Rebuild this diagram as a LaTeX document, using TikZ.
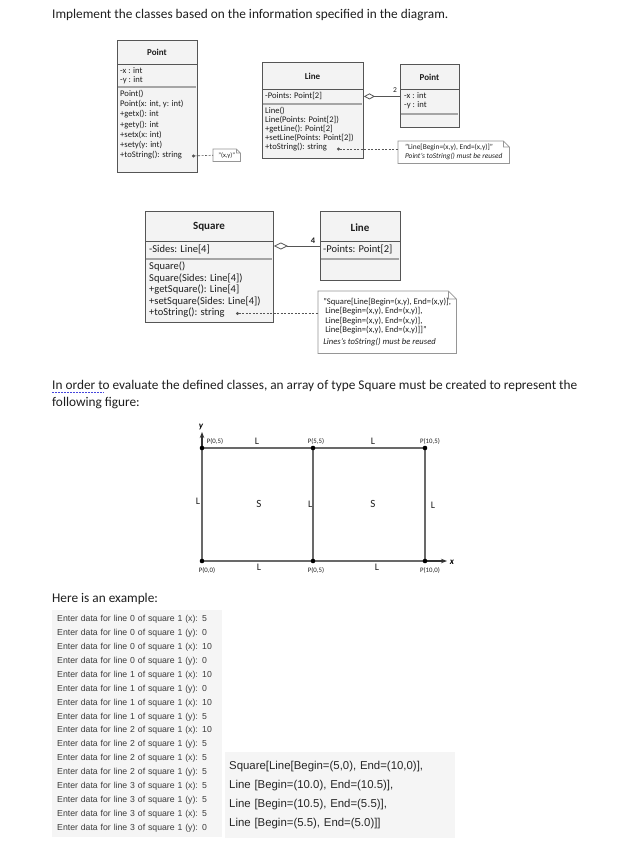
\documentclass[tikz,border=0pt]{standalone}
\usepackage{fontspec}
\setmainfont{Carlito}
\newfontfamily\exfont{Liberation Sans}
\usepackage{tikz}
\usetikzlibrary{arrows.meta,calc}
\definecolor{CDline}{RGB}{85,85,85}
\definecolor{CDfill}{RGB}{243,243,243}
\definecolor{CDsep}{RGB}{165,165,165}
\definecolor{CDtext}{RGB}{30,30,30}
\definecolor{CDnote}{RGB}{150,150,150}
\definecolor{FGline}{RGB}{105,105,105}
\definecolor{EXbg}{RGB}{245,245,245}
\definecolor{EXtext}{RGB}{60,60,60}
\definecolor{TXblue}{RGB}{70,70,220}
\tikzset{
  cls/.style={draw=CDline,fill=CDfill,line width=0.9pt,anchor=north west,inner sep=0pt},
  ctitle/.style={font=\bfseries\fontsize{9}{10}\selectfont,text=CDtext,inner sep=0pt},
  ctext/.style={font=\fontsize{8.6}{9}\selectfont,text=CDtext,align=left,anchor=north west,inner sep=0pt},
  chead/.style={draw=CDline,line width=0.9pt},
  csep/.style={draw=CDsep,line width=1.8pt},
  agg/.style={{Diamond[open,length=11pt,width=6pt]}-,draw=CDline,line width=0.8pt},
  mult/.style={font=\fontsize{7.5}{8}\selectfont,text=CDtext,inner sep=0pt},
  note/.style={anchor=north west,fill=white,font=\fontsize{7.4}{8.6}\selectfont,text=CDtext,align=left,inner sep=2pt},
  notebd/.style={draw=CDnote,line width=0.7pt},
  nlink/.style={{Circle[length=3pt]}-,draw=CDline,line width=0.6pt,dash pattern=on 2pt off 1.5pt},
  body/.style={font=\fontsize{13.3}{16}\selectfont,text=black!88,anchor=base west,inner sep=0pt},
  fig/.style={draw=FGline,line width=1.3pt},
  axis/.style={-{Stealth[length=6pt,width=4.5pt]},draw=black!80,line width=1.3pt},
  fdot/.style={fill=black,draw=none},
  plab/.style={font=\fontsize{6.8}{7}\selectfont,text=CDtext,inner sep=0pt},
  slab/.style={font=\fontsize{10}{11}\selectfont,text=CDtext,inner sep=0pt},
  alab/.style={font=\bfseries\itshape\fontsize{9}{10}\selectfont,text=black,inner sep=0pt},
  exblock/.style={anchor=north west,fill=EXbg,font=\exfont\fontsize{8.7}{13.9}\selectfont,text=EXtext,align=left,inner xsep=5pt,inner ysep=5pt}
}
\begin{document}
\begin{tikzpicture}[x=1pt,y=-1pt]
  \useasboundingbox[fill=white] (0,0) rectangle (618,843);
  \node[body] (intro) at (52,19) {Implement the classes based on the information specified in the diagram.};

  \node[cls,minimum width=80,minimum height=132] (ptA) at (117,40) {};
  \node[ctitle] (ptAname) at (157,52) {Point};
  \draw[chead] (117,64) -- (197,64);
  \node[ctext] (ptAattr) at (120,67.5) {-x : int\\-y : int};
  \draw[csep] (118,87) -- (196,87);
  \node[ctext,font=\fontsize{8.6}{10.2}\selectfont] (ptAops) at (120,90) {Point()\\Point(x: int, y: int)\\+getx(): int\\+gety(): int\\+setx(x: int)\\+sety(y: int)\\+toString(): string};
  \coordinate (ptAdot) at (192,156);
  \node[note,minimum width=27,minimum height=12,inner sep=1pt,font=\fontsize{6.5}{7}\selectfont] (nA) at (213,149) {"(x,y)"};
  \draw[notebd] (nA.north west) -- ([xshift=-4pt]nA.north east) -- ([yshift=-4pt]nA.north east) -- (nA.south east) -- (nA.south west) -- cycle
    ([xshift=-4pt]nA.north east) |- ([yshift=-4pt]nA.north east);
  \draw[nlink] (ptAdot) -- (nA.west);

  \node[cls,minimum width=101,minimum height=96] (lnA) at (262,62) {};
  \node[ctitle] (lnAname) at (312.5,76) {Line};
  \draw[chead] (262,89) -- (363,89);
  \node[ctext] (lnAattr) at (265,92.5) {-Points: Point[2]};
  \draw[csep] (263,104) -- (362,104);
  \node[ctext] (lnAops) at (265,107.5) {Line()\\Line(Points: Point[2])\\+getLine(): Point[2]\\+setLine(Points: Point[2])\\+toString(): string};
  \coordinate (lnAdot) at (337,149);

  \node[cls,minimum width=59,minimum height=63] (ptB) at (400,64) {};
  \node[ctitle] (ptBname) at (429.5,77) {Point};
  \draw[chead] (400,89) -- (459,89);
  \node[ctext] (ptBattr) at (404,92.5) {-x : int\\-y : int};
  \draw[csep] (401,114) -- (458,114);
  \draw[agg] (lnA.east |- lnAattr) -- (ptB.west |- lnAattr);
  \node[mult] (mA) at (395,90) {2};
  \node[note,minimum width=111,minimum height=22] (nB) at (398,141) {"Line[Begin=(x,y), End=(x,y)]"\\\textit{Point's toString() must be reused}};
  \draw[notebd] (nB.north west) -- ([xshift=-6pt]nB.north east) -- ([yshift=-6pt]nB.north east) -- (nB.south east) -- (nB.south west) -- cycle
    ([xshift=-6pt]nB.north east) |- ([yshift=-6pt]nB.north east);
  \draw[nlink] (lnAdot) -- (nB.west |- lnAdot);

  \node[cls,minimum width=128,minimum height=111] (sq) at (145,211) {};
  \node[ctitle,font=\bfseries\fontsize{11}{12}\selectfont] (sqname) at (209,227) {Square};
  \draw[chead] (145,241) -- (273,241);
  \node[ctext,font=\fontsize{10.5}{11}\selectfont] (sqattr) at (149,245) {-Sides: Line[4]};
  \draw[csep] (146,259) -- (272,259);
  \node[ctext,font=\fontsize{10.5}{11.4}\selectfont] (sqops) at (149,262) {Square()\\Square(Sides: Line[4])\\+getSquare(): Line[4]\\+setSquare(Sides: Line[4])\\+toString(): string};
  \coordinate (sqdot) at (236,313.5);

  \node[cls,minimum width=80,minimum height=69] (lnB) at (320,211) {};
  \node[ctitle,font=\bfseries\fontsize{11}{12}\selectfont] (lnBname) at (360,228) {Line};
  \draw[chead] (320,241) -- (400,241);
  \node[ctext,font=\fontsize{10.5}{11}\selectfont] (lnBattr) at (323,245) {-Points: Point[2]};
  \draw[csep] (321,259) -- (399,259);
  \draw[agg,{Diamond[open,length=14pt,width=7pt]}-] ([yshift=-1pt]sq.east |- sqattr.north) -- ([yshift=-1pt]lnB.west |- sqattr.north);
  \node[mult,font=\bfseries\fontsize{8.5}{9}\selectfont] (mB) at (313,241) {4};
  \node[note,font=\fontsize{8.6}{9.3}\selectfont,minimum width=138,minimum height=62] (nC) at (318,291) {"Square[Line[Begin=(x,y), End=(x,y)],\\\hspace{2pt}Line[Begin=(x,y), End=(x,y)],\\\hspace{2pt}Line[Begin=(x,y), End=(x,y)],\\\hspace{2pt}Line[Begin=(x,y), End=(x,y)]]"\\[3pt]\textit{Lines's toString() must be reused}};
  \draw[notebd] (nC.north west) -- ([xshift=-8pt]nC.north east) -- ([yshift=-8pt]nC.north east) -- (nC.south east) -- (nC.south west) -- cycle
    ([xshift=-8pt]nC.north east) |- ([yshift=-8pt]nC.north east);
  \draw[nlink] (sqdot) -- (nC.west |- sqdot);

  \node[body] (task) at (52,389) {In order to evaluate the defined classes, an array of type Square must be created to represent the};
  \node[body] (task2) at (52,406) {following figure:};
  \draw[TXblue,line width=0.9pt,dash pattern=on 2pt off 1pt] ([yshift=-3.5pt]task.base west) -- ++(52,0);

  \coordinate (p05) at (202,448);
  \coordinate (p55) at (313,448);
  \coordinate (p105) at (425,448);
  \coordinate (p00) at (202,561);
  \coordinate (p50) at (313,561);
  \coordinate (p100) at (425,561);
  \coordinate (ytip) at (202,432);
  \coordinate (xtip) at (447,561);
  \draw[fig] (p05) -- (p105) -- (p100) -- (p00) -- cycle;
  \draw[fig] (p55) -- (p50);
  \draw[axis] (p05) -- (ytip);
  \draw[axis] (p100) -- (xtip);
  \fill[fdot] (p05) circle (2.3pt) (p55) circle (2.3pt) (p105) circle (2.3pt)
    (p00) circle (2.3pt) (p50) circle (2.3pt) (p100) circle (2.3pt);
  \node[alab] (ylab) at (201,427) {y};
  \node[alab] (xlab) at (452,562) {x};
  \node[plab] (l05) at (215,441) {P(0,5)};
  \node[plab] (l55) at (316,441) {P(5,5)};
  \node[plab] (l105) at (430,441) {P(10,5)};
  \node[plab] (l00) at (207,570) {P(0,0)};
  \node[plab] (l50) at (316,570) {P(0,5)};
  \node[plab] (l100) at (430,570) {P(10,0)};
  \node[slab] (sTl) at (257,441) {L};
  \node[slab] (sTr) at (373,441) {L};
  \node[slab] (sBl) at (259,567) {L};
  \node[slab] (sBr) at (377,567) {L};
  \node[slab] (sL) at (198,501) {L};
  \node[slab,anchor=east] (sM) at (312.5,504) {L};
  \node[slab] (sR) at (433,505) {L};
  \node[slab,font=\fontsize{11}{12}\selectfont] (sqS1) at (259,504) {S};
  \node[slab,font=\fontsize{11}{12}\selectfont] (sqS2) at (373,504) {S};

  \node[body] (exhead) at (52,602) {Here is an example:};
  \node[exblock,text width=160,minimum height=227] (ex) at (52,610) {Enter data for line 0 of square 1 (x): 5\\Enter data for line 0 of square 1 (y): 0\\Enter data for line 0 of square 1 (x): 10\\Enter data for line 0 of square 1 (y): 0\\Enter data for line 1 of square 1 (x): 10\\Enter data for line 1 of square 1 (y): 0\\Enter data for line 1 of square 1 (x): 10\\Enter data for line 1 of square 1 (y): 5\\Enter data for line 2 of square 1 (x): 10\\Enter data for line 2 of square 1 (y): 5\\Enter data for line 2 of square 1 (x): 5\\Enter data for line 2 of square 1 (y): 5\\Enter data for line 3 of square 1 (x): 5\\Enter data for line 3 of square 1 (y): 5\\Enter data for line 3 of square 1 (x): 5\\Enter data for line 3 of square 1 (y): 0};
  \node[exblock,font=\exfont\fontsize{11.4}{19}\selectfont,text=black!85,text width=222,minimum height=86,inner xsep=4pt] (res) at (225,752) {Square[Line[Begin=(5,0), End=(10,0)],\\Line [Begin=(10.0), End=(10.5)],\\Line [Begin=(10.5), End=(5.5)],\\Line [Begin=(5.5), End=(5.0)]]};
\end{tikzpicture}
\end{document}
